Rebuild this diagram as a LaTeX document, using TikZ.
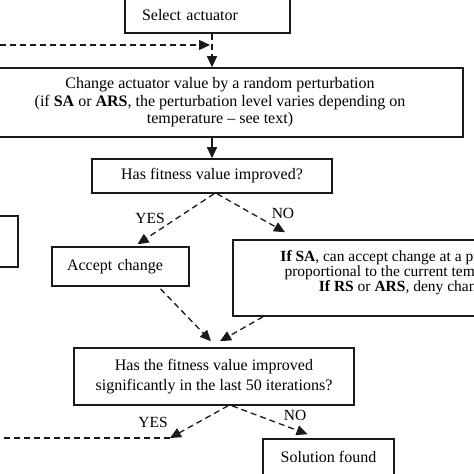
\documentclass[tikz,border=0pt]{standalone}
\usepackage{fontspec}
\setmainfont{Liberation Serif}
\usepackage{xcolor}
\definecolor{cLine}{HTML}{1A1A1A}
\usetikzlibrary{positioning,arrows.meta}
\tikzset{
  node-box/.style={draw=cLine,line width=1.6pt,rectangle,align=center,
    inner sep=0pt,font=\fontsize{16}{17.5}\selectfont},
  arrow/.style={-{Triangle[length=11pt,width=10pt]},line width=1.3pt,draw=cLine},
  arrow-dash/.style={arrow,dash pattern=on 6pt off 4pt},
  line-dash/.style={line width=1.3pt,draw=cLine,dash pattern=on 6pt off 4pt},
  label-yn/.style={font=\fontsize{15.5}{17}\selectfont,inner sep=0pt},
}

\begin{document}
\begin{tikzpicture}[x=1pt,y=-1pt]
  \useasboundingbox (0,0) rectangle (474,474);
  \clip (0,0) rectangle (474,474);
  % boxes
  \node[node-box,minimum width=165,minimum height=36,text width=131,
    inner xsep=17pt,align=left] (select) at (207.5,15) {Select actuator};
  \node[node-box,minimum width=486,minimum height=69] (change) at (220,102.5)
    {Change actuator value by a random perturbation\\
     (if \textbf{SA} or \textbf{ARS}, the perturbation level varies depending on\\
     temperature -- see text)};
  \node[node-box,minimum width=240,minimum height=34] (fitness) at (212,176)
    {Has fitness value improved?};
  \node[node-box,minimum width=137,minimum height=39,text width=107,
    inner xsep=15pt,align=left] (accept) at (120.5,266.5) {Accept change};
  \node[node-box,minimum width=348,minimum height=76,
    font=\fontsize{15.5}{14}\selectfont] (deny) at (407,278)
    {\textbf{If SA}, can accept change at a probability\\
     proportional to the current temperature.\\
     \textbf{If RS} or \textbf{ARS}, deny change.\\ \mbox{}};
  \node[node-box,minimum width=100,minimum height=51] (reject) at (-32,241.5) {};
  \node[node-box,minimum width=280,minimum height=57,
    font=\fontsize{16}{20.5}\selectfont] (signif) at (214,376.5)
    {Has the fitness value improved\\
     significantly in the last 50 iterations?};
  \node[node-box,minimum width=131,minimum height=36] (found) at (328.5,457)
    {Solution found};
  % loop ends outside the frame
  \coordinate (loopIn) at (-20,45);
  \coordinate (yesEnd) at (170,438);
  \coordinate (loopOut) at (-20,438);
  % connectors
  \draw[arrow-dash] (loopIn) -- ([xshift=-2pt]loopIn -| fitness.north);
  \draw[arrow-dash] (select.south -| fitness.north) -- (change.north -| fitness.north);
  \draw[arrow] (change.south -| fitness.north) -- (fitness.north);
  \draw[arrow-dash] ([xshift=2pt]fitness.south) -- ([xshift=17pt,yshift=2pt]accept.north);
  \draw[arrow-dash] ([xshift=5pt]fitness.south) -- ([xshift=-122pt,yshift=7pt]deny.north);
  \node[label-yn] (yes1) at (150,218) {YES};
  \node[label-yn] (no1) at (283,213) {NO};
  \draw[arrow-dash] ([xshift=40pt,yshift=-2pt]accept.south) -- ([xshift=-3pt,yshift=6pt]signif.north);
  \draw[arrow-dash] ([xshift=-144pt]deny.south) -- ([xshift=6pt,yshift=6pt]signif.north);
  \draw[arrow-dash] ([xshift=14pt]signif.south) -- (yesEnd);
  \draw[line-dash] (yesEnd) -- (loopOut);
  \draw[arrow-dash] ([xshift=18pt]signif.south) -- ([xshift=-21pt,yshift=4pt]found.north);
  \node[label-yn] (yes2) at (153,422) {YES};
  \node[label-yn] (no2) at (295,415) {NO};
\end{tikzpicture}
\end{document}
